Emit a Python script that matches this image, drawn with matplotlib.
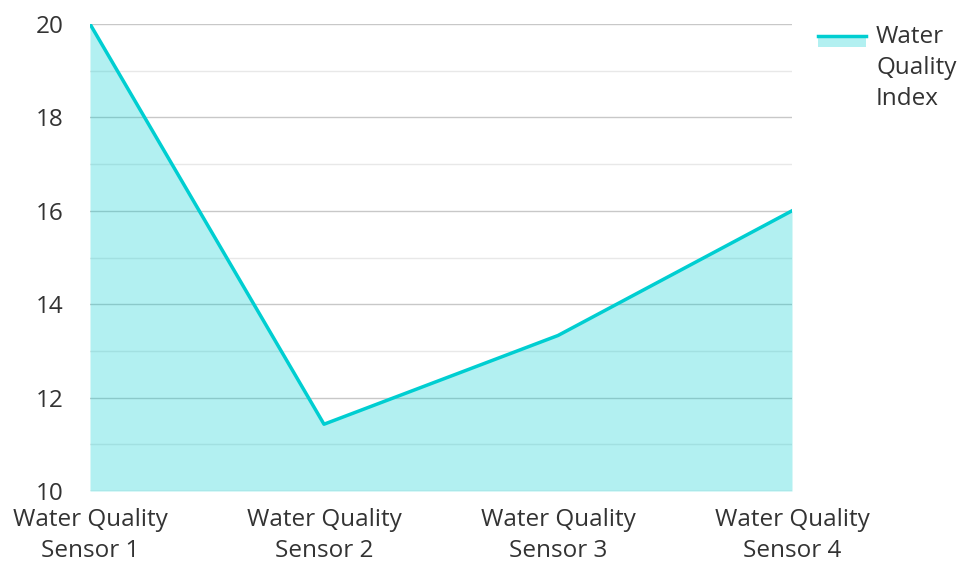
import numpy as np
from matplotlib import pyplot as plt
from matplotlib.patches import Rectangle
from matplotlib.lines import Line2D

plt.rcParams['font.family'] = ['Open Sans', 'DejaVu Sans']

sensors = ["Water Quality\nSensor 1", "Water Quality\nSensor 2",
           "Water Quality\nSensor 3", "Water Quality\nSensor 4"]
wqi = [20, 11.43, 13.33, 16]
series_name = "Water\nQuality\nIndex"
line_color = "#00CED1"

fig = plt.figure(figsize=(9.62, 5.63), dpi=100)
ax = fig.add_axes([90 / 962, 72 / 563, 702 / 962, 467 / 563])

x = np.arange(len(sensors))
ax.fill_between(x, wqi, 10, color=line_color, alpha=0.3, linewidth=0, zorder=2)
ax.plot(x, wqi, color=line_color, linewidth=2.5, zorder=3)

ax.set_xlim(0, len(sensors) - 1)
ax.set_ylim(10, 20)
ax.set_yticks(range(10, 21, 2))
ax.set_yticks(range(11, 20, 2), minor=True)
ax.set_xticks(x)
ax.set_xticklabels(sensors, linespacing=1.38)
ax.grid(True, which='major', axis='y', color='#c8c8c8', linewidth=1, zorder=1)
ax.grid(True, which='minor', axis='y', color='#e8e8e8', linewidth=1, zorder=1)
ax.set_axisbelow(True)
for s in ax.spines.values():
    s.set_visible(False)
ax.tick_params(axis='both', which='both', length=0, labelsize=17.5, colors='#333333')
ax.tick_params(axis='y', pad=19)
ax.tick_params(axis='x', pad=12)

# legend
fig.patches.append(Rectangle((818 / 962, 1 - 47 / 563), 48 / 962, 11 / 563,
                             transform=fig.transFigure, color=line_color, alpha=0.3, lw=0))
fig.lines.append(Line2D([818 / 962, 866 / 962], [1 - 36 / 563, 1 - 36 / 563],
                        transform=fig.transFigure, color=line_color, linewidth=2.5))
fig.text(876 / 962, 1 - 25 / 563, series_name, fontsize=17.5, color='#333333',
         va='top', ha='left', linespacing=1.38)

fig.savefig("out.png", dpi=100)
